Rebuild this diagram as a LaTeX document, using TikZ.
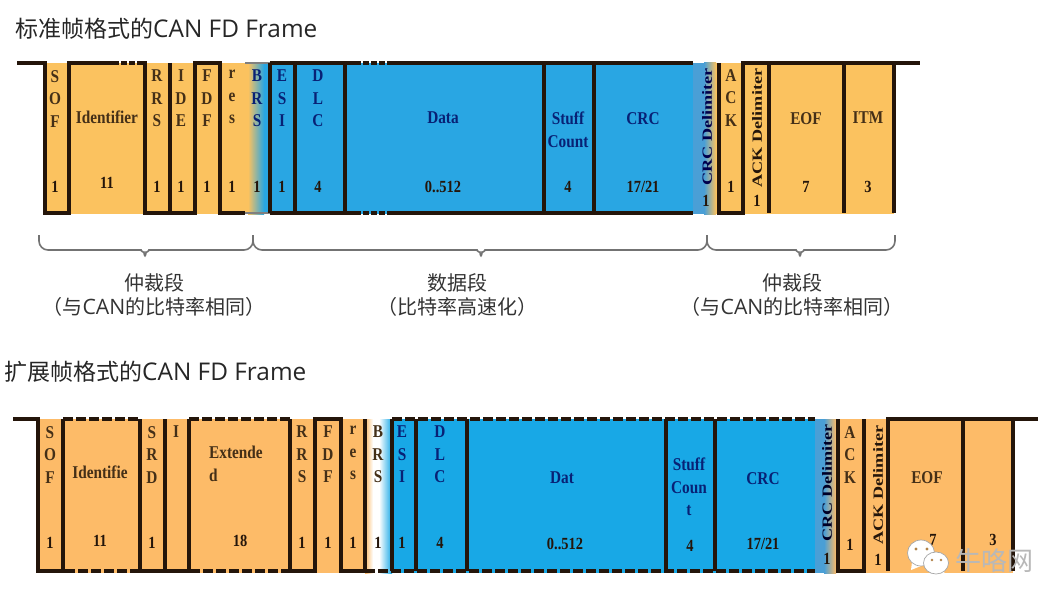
\documentclass[tikz,border=0pt]{standalone}
\usepackage{fontspec}
\setmainfont{Noto Sans CJK SC}
\newfontfamily\latinfont{Open Sans}[Scale=1.06]
\newfontfamily\fieldfont{Liberation Serif}[FakeStretch=0.85]
\newfontfamily\delimfont{Liberation Serif}[FakeStretch=1.3]
\definecolor{framea}{HTML}{FBC25F}
\definecolor{frameb}{HTML}{FDBB68}
\definecolor{busblue}{HTML}{29A6E3}
\definecolor{busblueb}{HTML}{18A8E6}
\definecolor{delimblue}{HTML}{4A9FD6}
\definecolor{palemid}{HTML}{CFD8C8}
\definecolor{sigdark}{HTML}{24150A}
\tikzset{
	sig/.style={draw=sigdark, line width=3.2pt},
	sigdash/.style={sig, dash pattern=on 10pt off 3pt},
	sigfaint/.style={draw=black!50, line width=1.2pt},
	fieldtext/.style={inner sep=0pt, align=center, anchor=north, font=\fieldfont\bfseries\fontsize{18}{22.5}\selectfont},
	orangetext/.style={fieldtext, text=sigdark!85!framea},
	bluetext/.style={fieldtext, text=blue!35!black!80!busblue},
	bittext/.style={inner sep=0pt, font=\fieldfont\bfseries\fontsize{17}{20}\selectfont},
	delimtext/.style={inner sep=0pt, rotate=90, font=\delimfont\bfseries\fontsize{14}{16}\selectfont},
	heading/.style={inner sep=0pt, anchor=west, font=\fontsize{23}{26}\selectfont, text=black!85},
	caption/.style={inner sep=0pt, align=center, font=\fontsize{20}{24}\selectfont, text=black!80},
	segbrace/.style={draw=black!55, line width=1.6pt, rounded corners=9pt},
	bubble/.style={draw=black!35, fill=white, line width=.7pt},
}
\begin{document}
\begin{tikzpicture}[x=1pt, y=-1pt]
	\useasboundingbox (0,0) rectangle (1051,607);
	% standard frame
	\node[heading] (titlea) at (15,29) {标准帧格式的{\latinfont CAN FD Frame}};
	\fill[framea] (45,63) rectangle (250,214);
	\shade[left color=framea, middle color=palemid, right color=busblue] (248,63) rectangle (264,214);
	\fill[busblue] (264,63) rectangle (693,214);
	\fill[delimblue] (693,63) rectangle (704,214);
	\shade[left color=delimblue, middle color=palemid, right color=framea] (704,63) rectangle (716,214);
	\fill[framea] (716,63) rectangle (894,214);
	\draw[sigfaint] (245,63) -- (270,63) (245,213) -- (270,213);
	\draw[sig] (17,63) -- (45,63) -- (45,213) -- (69,213) -- (69,63) -- (113,63);
	\draw[sig, dash pattern=on 6pt off 2pt] (113,63) -- (137,63);
	\draw[sig] (137,63) -- (145,63) -- (145,213) -- (195,213) -- (195,63) -- (220,63) -- (220,213) -- (245,213);
	\draw[sig] (270,63) -- (355,63);
	\draw[sig, dash pattern=on 6pt off 2pt] (355,63) -- (388,63);
	\draw[sig] (388,63) -- (693,63);
	\draw[sig] (270,213) -- (355,213);
	\draw[sig, dash pattern=on 6pt off 2pt] (355,213) -- (388,213);
	\draw[sig] (388,213) -- (693,213);
	\draw[sig] (719,63) -- (719,213) -- (743,213) -- (743,63) -- (920,63);
	\foreach \xs in {170,270,295,345,544,594,769,844,894}
		\draw[sig] (\xs,63) -- (\xs,213);
	\foreach \nm/\xs/\ys/\txt in {
		sofa/55/70/{S\\O\\F}, rrsa/157/70/{R\\R\\S}, idea/181/70/{I\\D\\E}, fdfa/207/70/{F\\D\\F},
		resa/232/70/{r\\e\\s}, acka/731/69/{A\\C\\K}, ida/107/111/{Identifier}, eofa/806/112/{EOF}, itma/868/112/{ITM}}
		\node[orangetext] (\nm) at (\xs,\ys) {\txt};
	\foreach \nm/\xs/\ys/\txt in {
		brsa/257/70/{B\\R\\S}, esia/282/70/{E\\S\\I}, dlca/318/70/{D\\L\\C}, dataa/443/112/{Data},
		stuffa/568/112/{Stuff\\Count}, crca/643/112/{CRC}}
		\node[bluetext] (\nm) at (\xs,\ys) {\txt};
	\foreach \nm/\xs/\ys/\txt in {
		bsofa/55/187/1, bida/107/183/11, brrsa/157/187/1, bidea/181/187/1, bfdfa/207/187/1, bresa/232/187/1,
		bbrsa/257/187/1, besia/282/187/1, bdlca/318/187/4, bdataa/443/187/0..512, bstuffa/568/187/4,
		bcrca/643/187/17\slash 21, bcrcda/706/201/1, backa/731/187/1, backda/757/201/1, beofa/806/187/7, bitma/868/187/3}
		\node[bittext, text=sigdark] (\nm) at (\xs,\ys) {\txt};
	\node[delimtext, text=black!70!blue] (crcda) at (707,127) {CRC Delimiter};
	\node[delimtext, text=sigdark] (ackda) at (757,128) {ACK Delimiter};
	% segments below the standard frame
	\foreach \xa/\xm/\xb in {39/145/253, 253/481/707, 707/800/895}
		\draw[segbrace] (\xa,235) -- (\xa,250) -- (\xm-13,250) .. controls (\xm-5,250) and (\xm-1,253) .. (\xm,261)
			.. controls (\xm+1,253) and (\xm+5,250) .. (\xm+13,250) -- (\xb,250) -- (\xb,235);
	\node[caption] (arba) at (154,295) {仲裁段\\（与{\latinfont CAN}的比特率相同）};
	\node[caption] (bitrate) at (457,295) {数据段\\（比特率高速化）};
	\node[caption] (arbb) at (792,295) {仲裁段\\（与{\latinfont CAN}的比特率相同）};
	% extended frame
	\node[heading] (titleb) at (4,372) {扩展帧格式的{\latinfont CAN FD Frame}};
	\fill[frameb] (38,419) rectangle (365,573);
	\shade[left color=frameb, right color=white] (365,419) rectangle (373,573);
	\shade[left color=white, right color=busblueb] (379,419) rectangle (392,573);
	\fill[busblueb] (392,419) rectangle (815,573);
	\fill[delimblue] (815,419) rectangle (824,573);
	\shade[left color=delimblue, middle color=palemid, right color=frameb] (824,419) rectangle (836,573);
	\fill[frameb] (836,419) rectangle (1013,573);
	\draw[sig] (13,419) -- (38,419) -- (38,571) -- (63,571) -- (63,419);
	\draw[sigdash] (63,419) -- (140,419);
	\draw[sig] (140,419) -- (140,571) -- (189,571) -- (189,419);
	\draw[sigdash] (189,419) -- (290,419);
	\draw[sig] (290,419) -- (290,571) -- (315,571) -- (315,419) -- (341,419) -- (341,571) -- (365,571);
	\draw[sigdash] (65,571) -- (140,571);
	\draw[sigdash] (190,571) -- (290,571);
	\draw[sigdash] (365,571) -- (815,571);
	\draw[sigdash] (392,419) -- (815,419);
	\draw[sig] (838,419) -- (838,571) -- (864,571) -- (864,419);
	\draw[sig] (888,571) -- (888,419) -- (1038,419);
	\foreach \xs in {165,365,392,416,467,666,715,963,1013}
		\draw[sig] (\xs,419) -- (\xs,571);
	\foreach \nm/\xs/\ys/\txt in {
		sofb/50/426/{S\\O\\F}, srdb/152/426/{S\\R\\D}, ib/176/426/{I}, rrsb/302/426/{R\\R\\S}, fdfb/328/426/{F\\D\\F},
		resb/353/426/{r\\e\\s}, brsb/378/426/{B\\R\\S}, ackb/850/426/{A\\C\\K}, idb/100/466/{Identifie}, eofb/927/471/{EOF}}
		\node[orangetext] (\nm) at (\xs,\ys) {\txt};
	\node[orangetext, align=left] (extb) at (236,446) {Extende\\d};
	\foreach \nm/\xs/\ys/\txt in {
		esib/402/426/{E\\S\\I}, dlcb/440/426/{D\\L\\C}, datab/562/472/{Dat},
		stuffb/689/458/{Stuff\\Coun\\t}, crcb/763/472/{CRC}}
		\node[bluetext] (\nm) at (\xs,\ys) {\txt};
	\foreach \nm/\xs/\ys/\txt in {
		bsofb/50/543/1, bidb/100/541/11, bsrdb/152/543/1, bextb/240/541/18, brrsb/302/543/1, bfdfb/328/543/1,
		bresb/353/543/1, bbrsb/378/543/1, besib/402/543/1, bdlcb/440/543/4, bdatab/565/544/0..512, bstuffb/690/546/4,
		bcrcb/763/544/17\slash 21, bcrcdb/827/559/1, backb/850/545/1, backdb/878/560/1, beofb/933/540/7, bitmb/993/540/3}
		\node[bittext, text=sigdark] (\nm) at (\xs,\ys) {\txt};
	\node[delimtext, text=black!85!blue] (crcdb) at (827,483) {CRC Delimiter};
	\node[delimtext, text=sigdark] (ackdb) at (878,485) {ACK Delimiter};
	% watermark
	\fill[white] (912,562) -- (911,570) -- (921,566) -- cycle;
	\draw[bubble] (921,553) ellipse (13.5 and 13);
	\fill[white] (938,570) -- (945,576) -- (943,566) -- cycle;
	\draw[bubble] (936,563) ellipse (12.5 and 11);
	\fill[frameb!70!black] (916,549) circle (1.6) (927,549) circle (1.6) (932,560) circle (1.4) (941,560) circle (1.4);
	\node[inner sep=0pt, font=\fontsize{26}{30}\selectfont, text=black!28] (mark) at (994,561) {牛咯网};
\end{tikzpicture}
\end{document}
